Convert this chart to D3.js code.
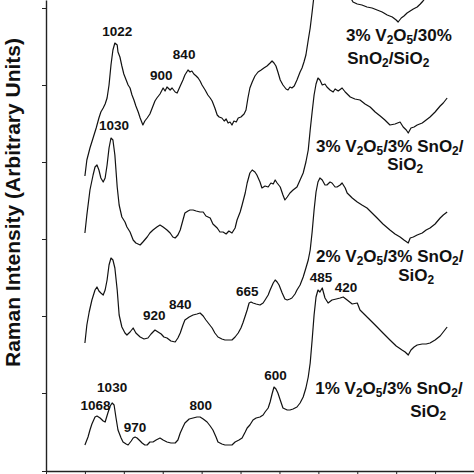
<!DOCTYPE html>
<html>
<head>
<meta charset="utf-8">
<script src="https://cdn.jsdelivr.net/npm/d3@7"></script>
<style>
  html, body { margin: 0; padding: 0; background: #fff; }
  svg { display: block; }
</style>
</head>
<body>
<svg id="chart"></svg>
<script>
// Constants for chart dimensions and styling
const CHART_WIDTH = 474;
const CHART_HEIGHT = 474;
const PLOT_LEFT = 46;
const PLOT_RIGHT = 474;
const PLOT_TOP = 0;
const PLOT_BOTTOM = 471;
const LINE_COLOR = "#111";
const AXIS_COLOR = "#222";
const FONT = "'Liberation Sans', Arial, Helvetica, sans-serif";
const PEAK_FONT_SIZE = 13.5;
const LABEL_FONT_SIZE = 17;
const SUB_SHIFT = 3;

// Axis ticks (Raman shift in cm-1, intensity in arbitrary units)
const shiftTicks = [1200, 1100, 1000, 900, 800, 700, 600, 500, 400, 300, 200, 100];
const intensityTicks = [0, 78, 155, 232, 309, 386, 463];

// Spectra: [Raman shift, intensity]
const spectrum3V30Sn = [
  [1100,295],[1095,311],[1087,323],[1079,333],[1071,343],[1064,353],[1059,359],[1053,363],
  [1048,367],[1043,373],[1038,386],[1033,406],[1028,421],[1023,428],[1017,426],[1015,419],
  [1010,414],[1005,405],[1000,397],[994,391],[989,386],[984,383],[979,376],[974,371],
  [969,365],[963,359],[958,353],[953,348],[951,346],[946,350],[940,353],[933,357],
  [925,365],[920,370],[915,373],[907,377],[899,383],[894,380],[889,384],[881,381],
  [876,383],[868,379],[863,378],[855,385],[848,391],[843,396],[835,401],[830,399],
  [825,400],[820,397],[814,395],[809,393],[804,390],[799,386],[791,381],[784,376],
  [778,373],[773,370],[766,363],[760,356],[755,354],[748,353],[742,350],[737,352],
  [732,348],[727,349],[722,346],[717,350],[711,349],[706,353],[699,354],[691,357],
  [686,361],[681,373],[676,383],[670,389],[663,395],[655,399],[647,401],[640,403],
  [632,405],[624,408],[619,410],[614,408],[609,405],[604,399],[598,391],[591,386],
  [583,382],[578,381],[573,384],[568,383],[562,385],[555,391],[547,399],[542,403],
  [537,409],[532,416],[526,431],[521,443],[516,459],[511,476],[499,491],[483,501],
  [457,496],[431,481],[418,474],[411,469],[400,467],[388,466],[375,464],[362,463],
  [349,461],[336,459],[323,456],[310,454],[300,451],[295,449],[287,453],[280,455],
  [272,458],[264,460],[256,462],[246,464],[238,467],[231,470],[223,474],[213,479],
  [187,486],[169,491]
];

const spectrum3V3Sn = [
  [1100,238],[1095,256],[1087,281],[1079,296],[1074,304],[1069,306],[1064,301],[1059,293],
  [1053,289],[1048,293],[1043,306],[1038,323],[1033,333],[1028,331],[1023,316],[1017,284],
  [1012,266],[1005,254],[997,249],[992,244],[984,239],[976,231],[969,228],[958,226],
  [951,229],[940,234],[933,238],[925,241],[915,244],[907,246],[899,244],[889,241],
  [881,238],[874,234],[868,233],[861,236],[855,241],[848,251],[843,258],[835,260],
  [830,261],[822,261],[814,260],[804,259],[796,259],[789,255],[778,253],[771,247],
  [760,243],[753,239],[745,239],[737,237],[730,240],[722,238],[714,243],[709,251],
  [701,259],[696,266],[688,278],[683,288],[676,298],[670,301],[663,299],[658,296],
  [650,289],[645,283],[637,285],[629,284],[622,288],[616,287],[611,291],[606,288],
  [598,284],[591,276],[586,271],[580,274],[573,278],[565,281],[555,284],[547,291],
  [539,298],[532,309],[526,321],[521,341],[516,359],[511,376],[506,387],[501,393],
  [496,391],[490,386],[483,387],[478,384],[470,381],[462,379],[457,382],[449,380],
  [439,383],[431,379],[418,374],[406,372],[393,371],[380,367],[367,364],[354,359],
  [341,355],[329,351],[316,346],[303,347],[290,349],[282,344],[274,341],[269,338],
  [262,343],[254,344],[246,346],[233,348],[223,351],[213,354],[200,359],[187,365],
  [179,368],[169,373]
];

const spectrum2V3Sn = [
  [1100,128],[1095,146],[1089,159],[1082,171],[1074,181],[1069,184],[1064,180],[1059,178],
  [1053,176],[1048,181],[1043,191],[1038,206],[1033,213],[1028,211],[1023,203],[1017,181],
  [1012,156],[1005,144],[997,138],[992,136],[984,139],[976,143],[969,138],[958,134],
  [948,132],[938,133],[930,137],[920,141],[912,139],[904,137],[897,134],[889,133],
  [879,130],[868,129],[861,133],[855,138],[848,146],[843,151],[832,154],[822,156],
  [812,157],[804,158],[796,155],[789,151],[781,147],[773,143],[766,138],[758,134],
  [748,132],[740,131],[730,131],[722,131],[714,134],[706,138],[699,143],[694,148],
  [688,155],[683,161],[678,168],[673,169],[668,168],[660,167],[650,166],[642,168],
  [637,171],[629,176],[624,181],[616,188],[611,191],[606,189],[601,186],[593,178],
  [586,172],[580,171],[573,172],[568,173],[560,177],[555,181],[547,186],[539,194],
  [532,203],[526,211],[521,221],[516,239],[511,261],[506,279],[501,289],[496,293],
  [490,291],[483,286],[478,286],[470,289],[465,288],[457,284],[452,284],[444,286],
  [439,288],[431,283],[426,278],[413,273],[400,269],[388,266],[375,263],[362,258],
  [349,253],[334,247],[316,241],[303,237],[290,234],[280,231],[269,228],[264,233],
  [256,234],[246,236],[233,238],[223,241],[213,243],[200,247],[187,253],[179,256],
  [169,259]
];

const spectrum1V3Sn = [
  [1100,26],[1092,34],[1087,41],[1082,47],[1074,54],[1069,55],[1061,53],[1053,50],
  [1048,49],[1041,58],[1035,65],[1030,68],[1025,66],[1020,53],[1015,41],[1007,33],
  [1002,29],[994,27],[989,26],[981,30],[976,33],[971,34],[966,33],[958,30],
  [953,28],[946,26],[940,26],[933,29],[925,29],[917,31],[907,33],[899,31],
  [889,29],[879,28],[868,28],[861,31],[855,38],[848,44],[843,48],[832,52],
  [822,53],[812,54],[804,54],[796,52],[786,49],[778,45],[771,41],[763,34],
  [758,29],[748,27],[740,26],[730,26],[722,26],[714,29],[704,31],[696,33],
  [688,39],[683,43],[676,46],[668,51],[660,53],[650,54],[642,56],[637,59],
  [629,63],[624,69],[619,77],[614,84],[609,82],[604,78],[598,71],[591,63],
  [580,61],[573,61],[565,62],[555,64],[547,68],[539,74],[532,83],[526,94],
  [521,108],[516,131],[511,156],[506,174],[501,181],[496,179],[490,183],[483,173],
  [475,168],[465,171],[454,172],[444,173],[436,174],[426,171],[413,167],[400,168],
  [393,161],[380,156],[367,151],[349,144],[334,138],[316,131],[300,125],[285,121],
  [277,119],[269,116],[262,121],[254,124],[246,126],[233,127],[223,127],[213,128],
  [200,131],[187,135],[179,139],[169,144]
];

const spectra = [spectrum3V30Sn, spectrum3V3Sn, spectrum2V3Sn, spectrum1V3Sn];

// Peak annotations: [text, shift, intensity] (text centre / baseline)
const peakLabels = [
  ["1022", 1017, 435], ["900", 904, 391], ["840", 845, 412],
  ["1030", 1025, 341],
  ["665", 683, 175], ["840", 855, 162], ["920", 922, 151],
  ["485", 493, 189], ["420", 429, 179],
  ["1030", 1030, 79], ["1068", 1073, 61], ["970", 971, 39], ["800", 802, 61], ["600", 610, 91]
];

// Sample names, "_n" marks a subscript: [text, shift, intensity] (start / baseline)
const sampleLabels = [
  ["3% V_2O_5/30%", 429, 430], ["SnO_2/SiO_2", 426, 407],
  ["3% V_2O_5/3% SnO_2/", 506, 319], ["SiO_2", 323, 301],
  ["2% V_2O_5/3% SnO_2/", 506, 209], ["SiO_2", 295, 190],
  ["1% V_2O_5/3% SnO_2/", 508, 77], ["SiO_2", 264, 54]
];

const yTitle = "Raman Intensity (Arbitrary Units)";

// Main function to draw the stacked spectra
function createChart() {
  const svg = d3.select("#chart")
    .attr("width", CHART_WIDTH)
    .attr("height", CHART_HEIGHT)
    .attr("viewBox", [0, 0, CHART_WIDTH, CHART_HEIGHT]);

  const x = d3.scaleLinear().domain([1200, 100]).range([PLOT_LEFT, PLOT_RIGHT]);
  const y = d3.scaleLinear().domain([0, 471]).range([PLOT_BOTTOM, PLOT_TOP]);

  // Axes without labels
  const xAxis = svg.append("g")
    .attr("transform", `translate(0,${PLOT_BOTTOM})`)
    .call(d3.axisBottom(x).tickValues(shiftTicks).tickFormat("").tickSize(4).tickSizeOuter(0));
  const yAxis = svg.append("g")
    .attr("transform", `translate(${PLOT_LEFT},0)`)
    .call(d3.axisLeft(y).tickValues(intensityTicks).tickFormat("").tickSize(4).tickSizeOuter(0));
  [xAxis, yAxis].forEach(g => {
    g.select(".domain").attr("stroke", AXIS_COLOR).attr("stroke-width", 1.4);
    g.selectAll(".tick line").attr("stroke", AXIS_COLOR).attr("stroke-width", 1);
  });

  // Spectra
  const line = d3.line().x(d => x(d[0])).y(d => y(d[1]));
  svg.append("g").selectAll("path")
    .data(spectra)
    .join("path")
    .attr("d", line)
    .attr("fill", "none")
    .attr("stroke", LINE_COLOR)
    .attr("stroke-width", 1.2)
    .attr("stroke-linejoin", "round");

  // Peak positions
  svg.append("g").selectAll("text")
    .data(peakLabels)
    .join("text")
    .attr("x", d => x(d[1]))
    .attr("y", d => y(d[2]))
    .attr("text-anchor", "middle")
    .attr("font-family", FONT)
    .attr("font-weight", "bold")
    .attr("font-size", PEAK_FONT_SIZE)
    .attr("fill", LINE_COLOR)
    .text(d => d[0]);

  // Sample names with subscripts
  sampleLabels.forEach(([label, shift, value]) => {
    const text = svg.append("text")
      .attr("x", x(shift))
      .attr("y", y(value))
      .attr("font-family", FONT)
      .attr("font-weight", "bold")
      .attr("font-size", LABEL_FONT_SIZE)
      .attr("fill", LINE_COLOR);
    let lowered = false;
    label.split(/(_\d)/).filter(p => p.length).forEach(part => {
      if (part[0] === "_") {
        text.append("tspan").attr("dy", lowered ? 0 : SUB_SHIFT).attr("font-size", LABEL_FONT_SIZE * 0.7).text(part[1]);
        lowered = true;
      } else {
        text.append("tspan").attr("dy", lowered ? -SUB_SHIFT : 0).text(part);
        lowered = false;
      }
    });
  });

  // Y axis title
  svg.append("text")
    .attr("transform", `translate(20,${(37 + 368) / 2}) rotate(-90)`)
    .attr("text-anchor", "middle")
    .attr("font-family", FONT)
    .attr("font-weight", "bold")
    .attr("font-size", 21)
    .attr("fill", LINE_COLOR)
    .text(yTitle);
}

createChart();
</script>
</body>
</html>
